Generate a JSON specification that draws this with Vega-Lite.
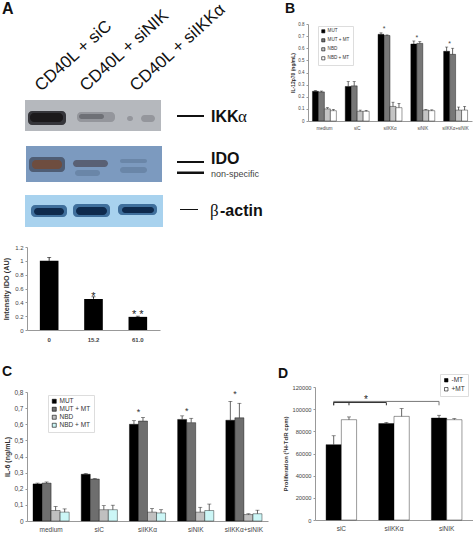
{
  "$schema": "https://vega.github.io/schema/vega-lite/v6.json",
  "description": "Composite figure: western blots with IDO intensity, IL-12p70, IL-6 and proliferation bar charts.",
  "background": "white",
  "padding": {"left": 2, "top": 0, "right": 0, "bottom": 0},
  "config": {
    "font": "Liberation Sans",
    "view": {"stroke": null},
    "axis": {"grid": false, "domainColor": "#999999", "tickColor": "#999999", "tickSize": 2, "labelColor": "#444444", "titleColor": "#333333", "titleFontWeight": "bold", "labelBound": false, "labelFlush": false},
    "title": {"anchor": "start", "frame": "group", "fontSize": 14, "fontWeight": "bold", "color": "#111111"},
    "legend": {"strokeColor": "#dddddd", "title": null, "orient": "none", "symbolType": "square", "symbolStrokeColor": "black", "symbolStrokeWidth": 0.6, "labelColor": "#333333", "labelOffset": 2}
  },
  "datasets": {
    "blot_rects": [
      {"part": "membrane", "left": 25, "right": 161, "top": 101, "bottom": 132, "shade": "ikk-bg"},
      {"part": "membrane", "left": 26, "right": 162, "top": 147, "bottom": 183, "shade": "ido-bg"},
      {"part": "membrane", "left": 25, "right": 163, "top": 196, "bottom": 228, "shade": "actin-bg"},
      {"part": "marker", "left": 177, "right": 204, "top": 116, "bottom": 118, "shade": "ink"},
      {"part": "marker", "left": 177, "right": 204, "top": 162, "bottom": 164, "shade": "ink"},
      {"part": "marker", "left": 177, "right": 204, "top": 172.5, "bottom": 175, "shade": "ink"},
      {"part": "marker", "left": 180, "right": 198, "top": 210, "bottom": 211, "shade": "ink"},
      {"part": "band", "left": 28, "right": 66, "top": 112, "bottom": 126, "shade": "ikk-soft"},
      {"part": "band", "left": 30, "right": 63, "top": 114, "bottom": 123, "shade": "ikk-core"},
      {"part": "band", "left": 77, "right": 115, "top": 113, "bottom": 123, "shade": "ikk-mid"},
      {"part": "band", "left": 79, "right": 104, "top": 115, "bottom": 120, "shade": "ikk-mid2"},
      {"part": "band", "left": 127, "right": 133, "top": 117, "bottom": 122, "shade": "ikk-mid"},
      {"part": "band", "left": 141, "right": 155, "top": 116, "bottom": 123, "shade": "ikk-mid"},
      {"part": "band", "left": 29, "right": 65, "top": 158, "bottom": 173, "shade": "ido-soft"},
      {"part": "band", "left": 32, "right": 62, "top": 161, "bottom": 170, "shade": "ido-core"},
      {"part": "band", "left": 73, "right": 108, "top": 161, "bottom": 168, "shade": "ido-mid"},
      {"part": "band", "left": 75, "right": 100, "top": 171, "bottom": 177, "shade": "ido-faint"},
      {"part": "band", "left": 120, "right": 147, "top": 160, "bottom": 164, "shade": "ido-faint"},
      {"part": "band", "left": 120, "right": 147, "top": 168, "bottom": 174, "shade": "ido-faint"},
      {"part": "band", "left": 31, "right": 67, "top": 206, "bottom": 218, "shade": "actin-soft"},
      {"part": "band", "left": 34, "right": 64, "top": 209, "bottom": 216, "shade": "actin-core"},
      {"part": "band", "left": 73, "right": 110, "top": 205, "bottom": 218, "shade": "actin-soft"},
      {"part": "band", "left": 76, "right": 107, "top": 208, "bottom": 216, "shade": "actin-core"},
      {"part": "band", "left": 118, "right": 157, "top": 205, "bottom": 216, "shade": "actin-soft"},
      {"part": "band", "left": 122, "right": 154, "top": 208, "bottom": 214, "shade": "actin-core"}
    ],
    "lane_labels": [
      {"label": "CD40L + siC", "at": 41, "base": 93},
      {"label": "CD40L + siNIK", "at": 86, "base": 93},
      {"label": "CD40L + siIKKα", "at": 136, "base": 93}
    ],
    "protein_labels": [
      {"label": "IKK", "at": 211, "base": 123},
      {"label": "IDO", "at": 211, "base": 165},
      {"label": "-actin", "at": 220, "base": 217},
      {"label": "A", "at": 2, "base": 15}
    ],
    "greek_labels": [
      {"label": "α", "at": 238, "base": 123},
      {"label": "β", "at": 210, "base": 217}
    ],
    "note_labels": [
      {"label": "non-specific", "at": 211, "base": 178}
    ],
    "ido": [
      {"dose": "0", "value": 1, "upper": 1.05},
      {"dose": "15.2", "value": 0.45, "upper": 0.48},
      {"dose": "61.0", "value": 0.19, "upper": 0.2}
    ],
    "ido_stars": [
      {"dose": "15.2", "at": 0.56, "mark": "*"},
      {"dose": "61.0", "at": 0.3, "mark": "* *"}
    ],
    "il12": [
      {"group": "medium", "series": "MUT", "value": 0.245, "upper": 0.25},
      {"group": "medium", "series": "MUT + MT", "value": 0.24, "upper": 0.247},
      {"group": "medium", "series": "NBD", "value": 0.1, "upper": 0.11},
      {"group": "medium", "series": "NBD + MT", "value": 0.085, "upper": 0.095},
      {"group": "siC", "series": "MUT", "value": 0.285, "upper": 0.325},
      {"group": "siC", "series": "MUT + MT", "value": 0.29, "upper": 0.325},
      {"group": "siC", "series": "NBD", "value": 0.08, "upper": 0.09},
      {"group": "siC", "series": "NBD + MT", "value": 0.08, "upper": 0.088},
      {"group": "siIKKα", "series": "MUT", "value": 0.715, "upper": 0.727},
      {"group": "siIKKα", "series": "MUT + MT", "value": 0.705, "upper": 0.71},
      {"group": "siIKKα", "series": "NBD", "value": 0.12, "upper": 0.155},
      {"group": "siIKKα", "series": "NBD + MT", "value": 0.11, "upper": 0.145},
      {"group": "siNIK", "series": "MUT", "value": 0.635, "upper": 0.66},
      {"group": "siNIK", "series": "MUT + MT", "value": 0.64, "upper": 0.655},
      {"group": "siNIK", "series": "NBD", "value": 0.09, "upper": 0.095},
      {"group": "siNIK", "series": "NBD + MT", "value": 0.085, "upper": 0.092},
      {"group": "siIKKα+siNIK", "series": "MUT", "value": 0.575, "upper": 0.61},
      {"group": "siIKKα+siNIK", "series": "MUT + MT", "value": 0.55, "upper": 0.6},
      {"group": "siIKKα+siNIK", "series": "NBD", "value": 0.09, "upper": 0.115},
      {"group": "siIKKα+siNIK", "series": "NBD + MT", "value": 0.09, "upper": 0.12}
    ],
    "il12_stars": [
      {"group": "siIKKα", "at": 0.79, "mark": "*"},
      {"group": "siNIK", "at": 0.72, "mark": "*"},
      {"group": "siIKKα+siNIK", "at": 0.67, "mark": "*"}
    ],
    "il6": [
      {"group": "medium", "series": "MUT", "value": 0.23, "upper": 0.235},
      {"group": "medium", "series": "MUT + MT", "value": 0.235, "upper": 0.242},
      {"group": "medium", "series": "NBD", "value": 0.065, "upper": 0.09},
      {"group": "medium", "series": "NBD + MT", "value": 0.055, "upper": 0.075},
      {"group": "siC", "series": "MUT", "value": 0.29, "upper": 0.294},
      {"group": "siC", "series": "MUT + MT", "value": 0.26, "upper": 0.263},
      {"group": "siC", "series": "NBD", "value": 0.07, "upper": 0.095},
      {"group": "siC", "series": "NBD + MT", "value": 0.07, "upper": 0.098},
      {"group": "siIKKα", "series": "MUT", "value": 0.6, "upper": 0.622},
      {"group": "siIKKα", "series": "MUT + MT", "value": 0.62, "upper": 0.642},
      {"group": "siIKKα", "series": "NBD", "value": 0.055, "upper": 0.077},
      {"group": "siIKKα", "series": "NBD + MT", "value": 0.05, "upper": 0.07},
      {"group": "siNIK", "series": "MUT", "value": 0.63, "upper": 0.652},
      {"group": "siNIK", "series": "MUT + MT", "value": 0.61, "upper": 0.637},
      {"group": "siNIK", "series": "NBD", "value": 0.055, "upper": 0.085},
      {"group": "siNIK", "series": "NBD + MT", "value": 0.065, "upper": 0.105},
      {"group": "siIKKα+siNIK", "series": "MUT", "value": 0.625, "upper": 0.742},
      {"group": "siIKKα+siNIK", "series": "MUT + MT", "value": 0.64, "upper": 0.73},
      {"group": "siIKKα+siNIK", "series": "NBD", "value": 0.04, "upper": 0.045},
      {"group": "siIKKα+siNIK", "series": "NBD + MT", "value": 0.045, "upper": 0.067}
    ],
    "il6_stars": [
      {"group": "siIKKα", "at": 0.7, "mark": "*"},
      {"group": "siNIK", "at": 0.71, "mark": "*"},
      {"group": "siIKKα+siNIK", "at": 0.815, "mark": "*"}
    ],
    "prolif": [
      {"group": "siC", "series": "-MT", "value": 68000, "upper": 76000},
      {"group": "siC", "series": "+MT", "value": 90500, "upper": 93000},
      {"group": "siIKKα", "series": "-MT", "value": 87000, "upper": 88000},
      {"group": "siIKKα", "series": "+MT", "value": 93500, "upper": 100500},
      {"group": "siNIK", "series": "-MT", "value": 92000, "upper": 94500},
      {"group": "siNIK", "series": "+MT", "value": 90500, "upper": 91500}
    ],
    "prolif_bracket": [
      {"line": "wide", "step": 1, "group": "siC", "series": "-MT", "level": 103500},
      {"line": "wide", "step": 2, "group": "siC", "series": "-MT", "level": 107000},
      {"line": "wide", "step": 3, "group": "siNIK", "series": "-MT", "level": 107000},
      {"line": "wide", "step": 4, "group": "siNIK", "series": "-MT", "level": 103500},
      {"line": "near", "step": 1, "group": "siC", "series": "-MT", "level": 103500},
      {"line": "near", "step": 2, "group": "siC", "series": "-MT", "level": 106000},
      {"line": "near", "step": 3, "group": "siIKKα", "series": "-MT", "level": 106000},
      {"line": "near", "step": 4, "group": "siIKKα", "series": "-MT", "level": 103500},
      {"line": "mid", "step": 1, "group": "siC", "series": "+MT", "level": 106000},
      {"line": "mid", "step": 2, "group": "siC", "series": "+MT", "level": 103500}
    ],
    "prolif_star": [
      {"group": "siIKKα", "at": 113000, "mark": "*"}
    ]
  },
  "bounds": "flush",
  "spacing": 281,
  "resolve": {"scale": {"color": "independent", "xOffset": "independent"}},
  "hconcat": [
    {
      "bounds": "flush",
      "spacing": 62,
      "resolve": {"scale": {"color": "independent", "xOffset": "independent"}},
      "vconcat": [
        {
          "width": 243,
          "height": 161,
          "layer": [
            {
              "data": {"name": "blot_rects"},
              "transform": [{"filter": "datum.part != 'band'"}],
              "mark": {"type": "rect"},
              "encoding": {
                "x": {"field": "left", "type": "quantitative", "scale": {"domain": [27, 270], "nice": false}, "axis": null},
                "x2": {"field": "right"},
                "y": {"field": "top", "type": "quantitative", "scale": {"domain": [186, 25], "nice": false}, "axis": null},
                "y2": {"field": "bottom"},
                "color": {
                  "field": "shade", "type": "nominal", "legend": null,
                  "scale": {
                    "domain": ["ikk-bg", "ido-bg", "actin-bg", "ink", "ikk-soft", "ikk-core", "ikk-mid", "ikk-mid2", "ido-soft", "ido-core", "ido-mid", "ido-faint", "actin-soft", "actin-core"],
                    "range": ["#b5b8bd", "#7c9abf", "#a8d2ee", "#111111", "#35353a", "#1b191b", "#94969c", "#6e7076", "#4f5d74", "#6e4d3f", "#596074", "#6a86a8", "#3f6f9c", "#0e2a4d"]
                  }
                }
              }
            },
            {
              "data": {"name": "blot_rects"},
              "transform": [{"filter": "datum.part == 'band'"}],
              "mark": {"type": "rect", "cornerRadius": 4},
              "encoding": {
                "x": {"field": "left", "type": "quantitative"},
                "x2": {"field": "right"},
                "y": {"field": "top", "type": "quantitative"},
                "y2": {"field": "bottom"},
                "color": {"field": "shade", "type": "nominal", "legend": null}
              }
            },
            {
              "data": {"name": "lane_labels"},
              "mark": {"type": "text", "angle": -42, "align": "left", "baseline": "alphabetic", "fontSize": 17, "color": "#111111"},
              "encoding": {
                "x": {"field": "at", "type": "quantitative"},
                "y": {"field": "base", "type": "quantitative"},
                "text": {"field": "label"}
              }
            },
            {
              "data": {"name": "protein_labels"},
              "mark": {"type": "text", "align": "left", "baseline": "alphabetic", "fontSize": 16, "fontWeight": "bold", "color": "#111111"},
              "encoding": {
                "x": {"field": "at", "type": "quantitative"},
                "y": {"field": "base", "type": "quantitative"},
                "text": {"field": "label"}
              }
            },
            {
              "data": {"name": "greek_labels"},
              "mark": {"type": "text", "align": "left", "baseline": "alphabetic", "fontSize": 17, "font": "Liberation Serif", "color": "#111111"},
              "encoding": {
                "x": {"field": "at", "type": "quantitative"},
                "y": {"field": "base", "type": "quantitative"},
                "text": {"field": "label"}
              }
            },
            {
              "data": {"name": "note_labels"},
              "mark": {"type": "text", "align": "left", "baseline": "alphabetic", "fontSize": 9, "color": "#444444"},
              "encoding": {
                "x": {"field": "at", "type": "quantitative"},
                "y": {"field": "base", "type": "quantitative"},
                "text": {"field": "label"}
              }
            }
          ]
        },
        {
          "width": 133,
          "height": 83,
          "layer": [
            {
              "data": {"name": "ido"},
              "mark": {"type": "bar", "color": "black"},
              "encoding": {
                "x": {
                  "field": "dose", "type": "nominal", "sort": null, "title": null,
                  "scale": {"paddingInner": 0.58, "paddingOuter": 0.29},
                  "axis": {"labelAngle": 0, "labelFontSize": 6, "labelFontWeight": "bold", "ticks": false, "labelPadding": 6}
                },
                "y": {
                  "field": "value", "type": "quantitative", "title": "Intensity IDO (AU)",
                  "scale": {"domain": [0, 1.2], "nice": false},
                  "axis": {"values": [0, 0.2, 0.4, 0.6, 0.8, 1, 1.2], "tickCount": 20, "format": "~g", "labelOverlap": false, "labelFontSize": 6, "titleFontSize": 7.3, "titlePadding": 4}
                }
              }
            },
            {
              "data": {"name": "ido"},
              "mark": {"type": "rule", "color": "black", "strokeWidth": 0.8},
              "encoding": {
                "x": {"field": "dose", "type": "nominal", "sort": null},
                "y": {"field": "value", "type": "quantitative"},
                "y2": {"field": "upper"}
              }
            },
            {
              "data": {"name": "ido"},
              "mark": {"type": "tick", "orient": "horizontal", "color": "black", "size": 4, "thickness": 0.8},
              "encoding": {
                "x": {"field": "dose", "type": "nominal", "sort": null},
                "y": {"field": "upper", "type": "quantitative"}
              }
            },
            {
              "data": {"name": "ido_stars"},
              "mark": {"type": "text", "fontSize": 11, "baseline": "top", "color": "#222222"},
              "encoding": {
                "x": {"field": "dose", "type": "nominal", "sort": null},
                "y": {"field": "at", "type": "quantitative"},
                "text": {"field": "mark"}
              }
            }
          ]
        },
        {
          "title": {"text": "C", "dx": -25, "offset": 10},
          "width": 241,
          "height": 129,
          "layer": [
            {
              "data": {"name": "il6"},
              "mark": {"type": "bar", "stroke": "black", "strokeWidth": 0.4},
              "encoding": {
                "x": {
                  "field": "group", "type": "nominal", "sort": null, "title": null,
                  "scale": {"paddingInner": 0.25, "paddingOuter": 0.125},
                  "axis": {"labelAngle": 0, "labelFontSize": 6.5, "ticks": false, "labelPadding": 5}
                },
                "xOffset": {"field": "series", "type": "nominal", "sort": null},
                "y": {
                  "field": "value", "type": "quantitative", "title": "IL-6 (ng/mL)",
                  "scale": {"domain": [0, 0.8], "nice": false},
                  "axis": {"values": [0, 0.1, 0.2, 0.3, 0.4, 0.5, 0.6, 0.7, 0.8], "tickCount": 20, "labelExpr": "replace(format(datum.value, '~g'), '.', ',')", "labelOverlap": false, "labelFontSize": 6.5, "titleFontSize": 7, "titlePadding": 3}
                },
                "color": {
                  "field": "series", "type": "nominal", "sort": null,
                  "scale": {"domain": ["MUT", "MUT + MT", "NBD", "NBD + MT"], "range": ["#000000", "#6e6e6e", "#c0c0c0", "#ccf6f6"]},
                  "legend": {"legendX": 21, "legendY": 3, "labelFontSize": 6.5, "symbolSize": 16, "rowPadding": 1, "padding": 3}
                }
              }
            },
            {
              "data": {"name": "il6"},
              "mark": {"type": "rule", "color": "#222222", "strokeWidth": 0.7},
              "encoding": {
                "x": {"field": "group", "type": "nominal", "sort": null},
                "xOffset": {"field": "series", "type": "nominal", "sort": null},
                "y": {"field": "value", "type": "quantitative"},
                "y2": {"field": "upper"}
              }
            },
            {
              "data": {"name": "il6"},
              "mark": {"type": "tick", "orient": "horizontal", "color": "#222222", "size": 4, "thickness": 0.7},
              "encoding": {
                "x": {"field": "group", "type": "nominal", "sort": null},
                "xOffset": {"field": "series", "type": "nominal", "sort": null},
                "y": {"field": "upper", "type": "quantitative"}
              }
            },
            {
              "data": {"name": "il6_stars"},
              "mark": {"type": "text", "fontSize": 9, "dx": -9, "baseline": "top", "color": "#333333"},
              "encoding": {
                "x": {"field": "group", "type": "nominal", "sort": null},
                "y": {"field": "at", "type": "quantitative"},
                "text": {"field": "mark"}
              }
            }
          ]
        }
      ]
    },
    {
      "bounds": "flush",
      "spacing": 266,
      "resolve": {"scale": {"color": "independent", "xOffset": "independent"}},
      "vconcat": [
        {
          "title": {"text": "B", "dx": -23, "offset": 5},
          "width": 164,
          "height": 97,
          "layer": [
            {
              "data": {"name": "il12"},
              "mark": {"type": "bar", "stroke": "black", "strokeWidth": 0.4},
              "encoding": {
                "x": {
                  "field": "group", "type": "nominal", "sort": null, "title": null,
                  "scale": {"paddingInner": 0.27, "paddingOuter": 0.135},
                  "axis": {"labelAngle": 0, "labelFontSize": 4.5, "ticks": false, "labelPadding": 4}
                },
                "xOffset": {"field": "series", "type": "nominal", "sort": null},
                "y": {
                  "field": "value", "type": "quantitative", "title": "IL-12p70 (ng/mL)",
                  "scale": {"domain": [0, 0.8], "nice": false},
                  "axis": {"values": [0, 0.1, 0.2, 0.3, 0.4, 0.5, 0.6, 0.7, 0.8], "tickCount": 20, "format": "~g", "labelOverlap": false, "labelFontSize": 4.5, "titleFontSize": 5, "titlePadding": 2}
                },
                "color": {
                  "field": "series", "type": "nominal", "sort": null,
                  "scale": {"domain": ["MUT", "MUT + MT", "NBD", "NBD + MT"], "range": ["#000000", "#777777", "#c4c4c4", "#ffffff"]},
                  "legend": {"legendX": 10, "legendY": 2, "labelFontSize": 4.6, "symbolSize": 10, "rowPadding": 2, "padding": 3}
                }
              }
            },
            {
              "data": {"name": "il12"},
              "mark": {"type": "rule", "color": "#222222", "strokeWidth": 0.7},
              "encoding": {
                "x": {"field": "group", "type": "nominal", "sort": null},
                "xOffset": {"field": "series", "type": "nominal", "sort": null},
                "y": {"field": "value", "type": "quantitative"},
                "y2": {"field": "upper"}
              }
            },
            {
              "data": {"name": "il12"},
              "mark": {"type": "tick", "orient": "horizontal", "color": "#222222", "size": 3, "thickness": 0.7},
              "encoding": {
                "x": {"field": "group", "type": "nominal", "sort": null},
                "xOffset": {"field": "series", "type": "nominal", "sort": null},
                "y": {"field": "upper", "type": "quantitative"}
              }
            },
            {
              "data": {"name": "il12_stars"},
              "mark": {"type": "text", "fontSize": 7, "dx": -6, "baseline": "top", "color": "#444444"},
              "encoding": {
                "x": {"field": "group", "type": "nominal", "sort": null},
                "y": {"field": "at", "type": "quantitative"},
                "text": {"field": "mark"}
              }
            }
          ]
        },
        {
          "bounds": "flush",
          "spacing": 0,
          "resolve": {"scale": {"color": "independent", "xOffset": "independent"}},
          "hconcat": [
            {
              "width": 7,
              "height": 1,
              "data": {"values": [{"blank": 0}]},
              "mark": {"type": "point", "opacity": 0},
              "encoding": {}
            },
            {
              "title": {"text": "D", "dx": -37, "offset": 0, "dy": 7},
              "width": 158,
              "height": 133,
              "layer": [
                {
                  "data": {"name": "prolif"},
                  "mark": {"type": "bar", "stroke": "black", "strokeWidth": 0.4},
                  "encoding": {
                    "x": {
                      "field": "group", "type": "nominal", "sort": null, "title": null,
                      "scale": {"paddingInner": 0.42, "paddingOuter": 0.21},
                      "axis": {"labelAngle": 0, "labelFontSize": 6.5, "ticks": false, "labelPadding": 5}
                    },
                    "xOffset": {"field": "series", "type": "nominal", "sort": null},
                    "y": {
                      "field": "value", "type": "quantitative", "title": "Proliferation (³H-TdR cpm)",
                      "scale": {"domain": [0, 120000], "nice": false},
                      "axis": {"values": [0, 20000, 40000, 60000, 80000, 100000, 120000], "tickCount": 20, "format": "d", "labelOverlap": false, "labelFontSize": 5.7, "titleFontSize": 6, "titlePadding": 4}
                    },
                    "color": {
                      "field": "series", "type": "nominal", "sort": null,
                      "scale": {"domain": ["-MT", "+MT"], "range": ["#000000", "#ffffff"]},
                      "legend": {"legendX": 125, "legendY": -13, "labelFontSize": 6.5, "symbolSize": 12, "rowPadding": 2, "padding": 3}
                    }
                  }
                },
                {
                  "data": {"name": "prolif"},
                  "mark": {"type": "rule", "color": "#222222", "strokeWidth": 0.7},
                  "encoding": {
                    "x": {"field": "group", "type": "nominal", "sort": null},
                    "xOffset": {"field": "series", "type": "nominal", "sort": null},
                    "y": {"field": "value", "type": "quantitative"},
                    "y2": {"field": "upper"}
                  }
                },
                {
                  "data": {"name": "prolif"},
                  "mark": {"type": "tick", "orient": "horizontal", "color": "#222222", "size": 4, "thickness": 0.7},
                  "encoding": {
                    "x": {"field": "group", "type": "nominal", "sort": null},
                    "xOffset": {"field": "series", "type": "nominal", "sort": null},
                    "y": {"field": "upper", "type": "quantitative"}
                  }
                },
                {
                  "data": {"name": "prolif_bracket"},
                  "transform": [{"filter": "datum.line == 'wide'"}],
                  "mark": {"type": "line", "color": "#777777", "strokeWidth": 1},
                  "encoding": {
                    "x": {"field": "group", "type": "nominal", "sort": null},
                    "xOffset": {"field": "series", "type": "nominal", "sort": null},
                    "y": {"field": "level", "type": "quantitative"},
                    "order": {"field": "step"}
                  }
                },
                {
                  "data": {"name": "prolif_bracket"},
                  "transform": [{"filter": "datum.line != 'wide'"}],
                  "mark": {"type": "line", "color": "#333333", "strokeWidth": 1},
                  "encoding": {
                    "x": {"field": "group", "type": "nominal", "sort": null},
                    "xOffset": {"field": "series", "type": "nominal", "sort": null},
                    "y": {"field": "level", "type": "quantitative"},
                    "detail": {"field": "line"},
                    "order": {"field": "step"}
                  }
                },
                {
                  "data": {"name": "prolif_star"},
                  "mark": {"type": "text", "fontSize": 10, "dx": -28, "baseline": "top", "color": "#222222"},
                  "encoding": {
                    "x": {"field": "group", "type": "nominal", "sort": null},
                    "y": {"field": "at", "type": "quantitative"},
                    "text": {"field": "mark"}
                  }
                }
              ]
            }
          ]
        }
      ]
    }
  ]
}
